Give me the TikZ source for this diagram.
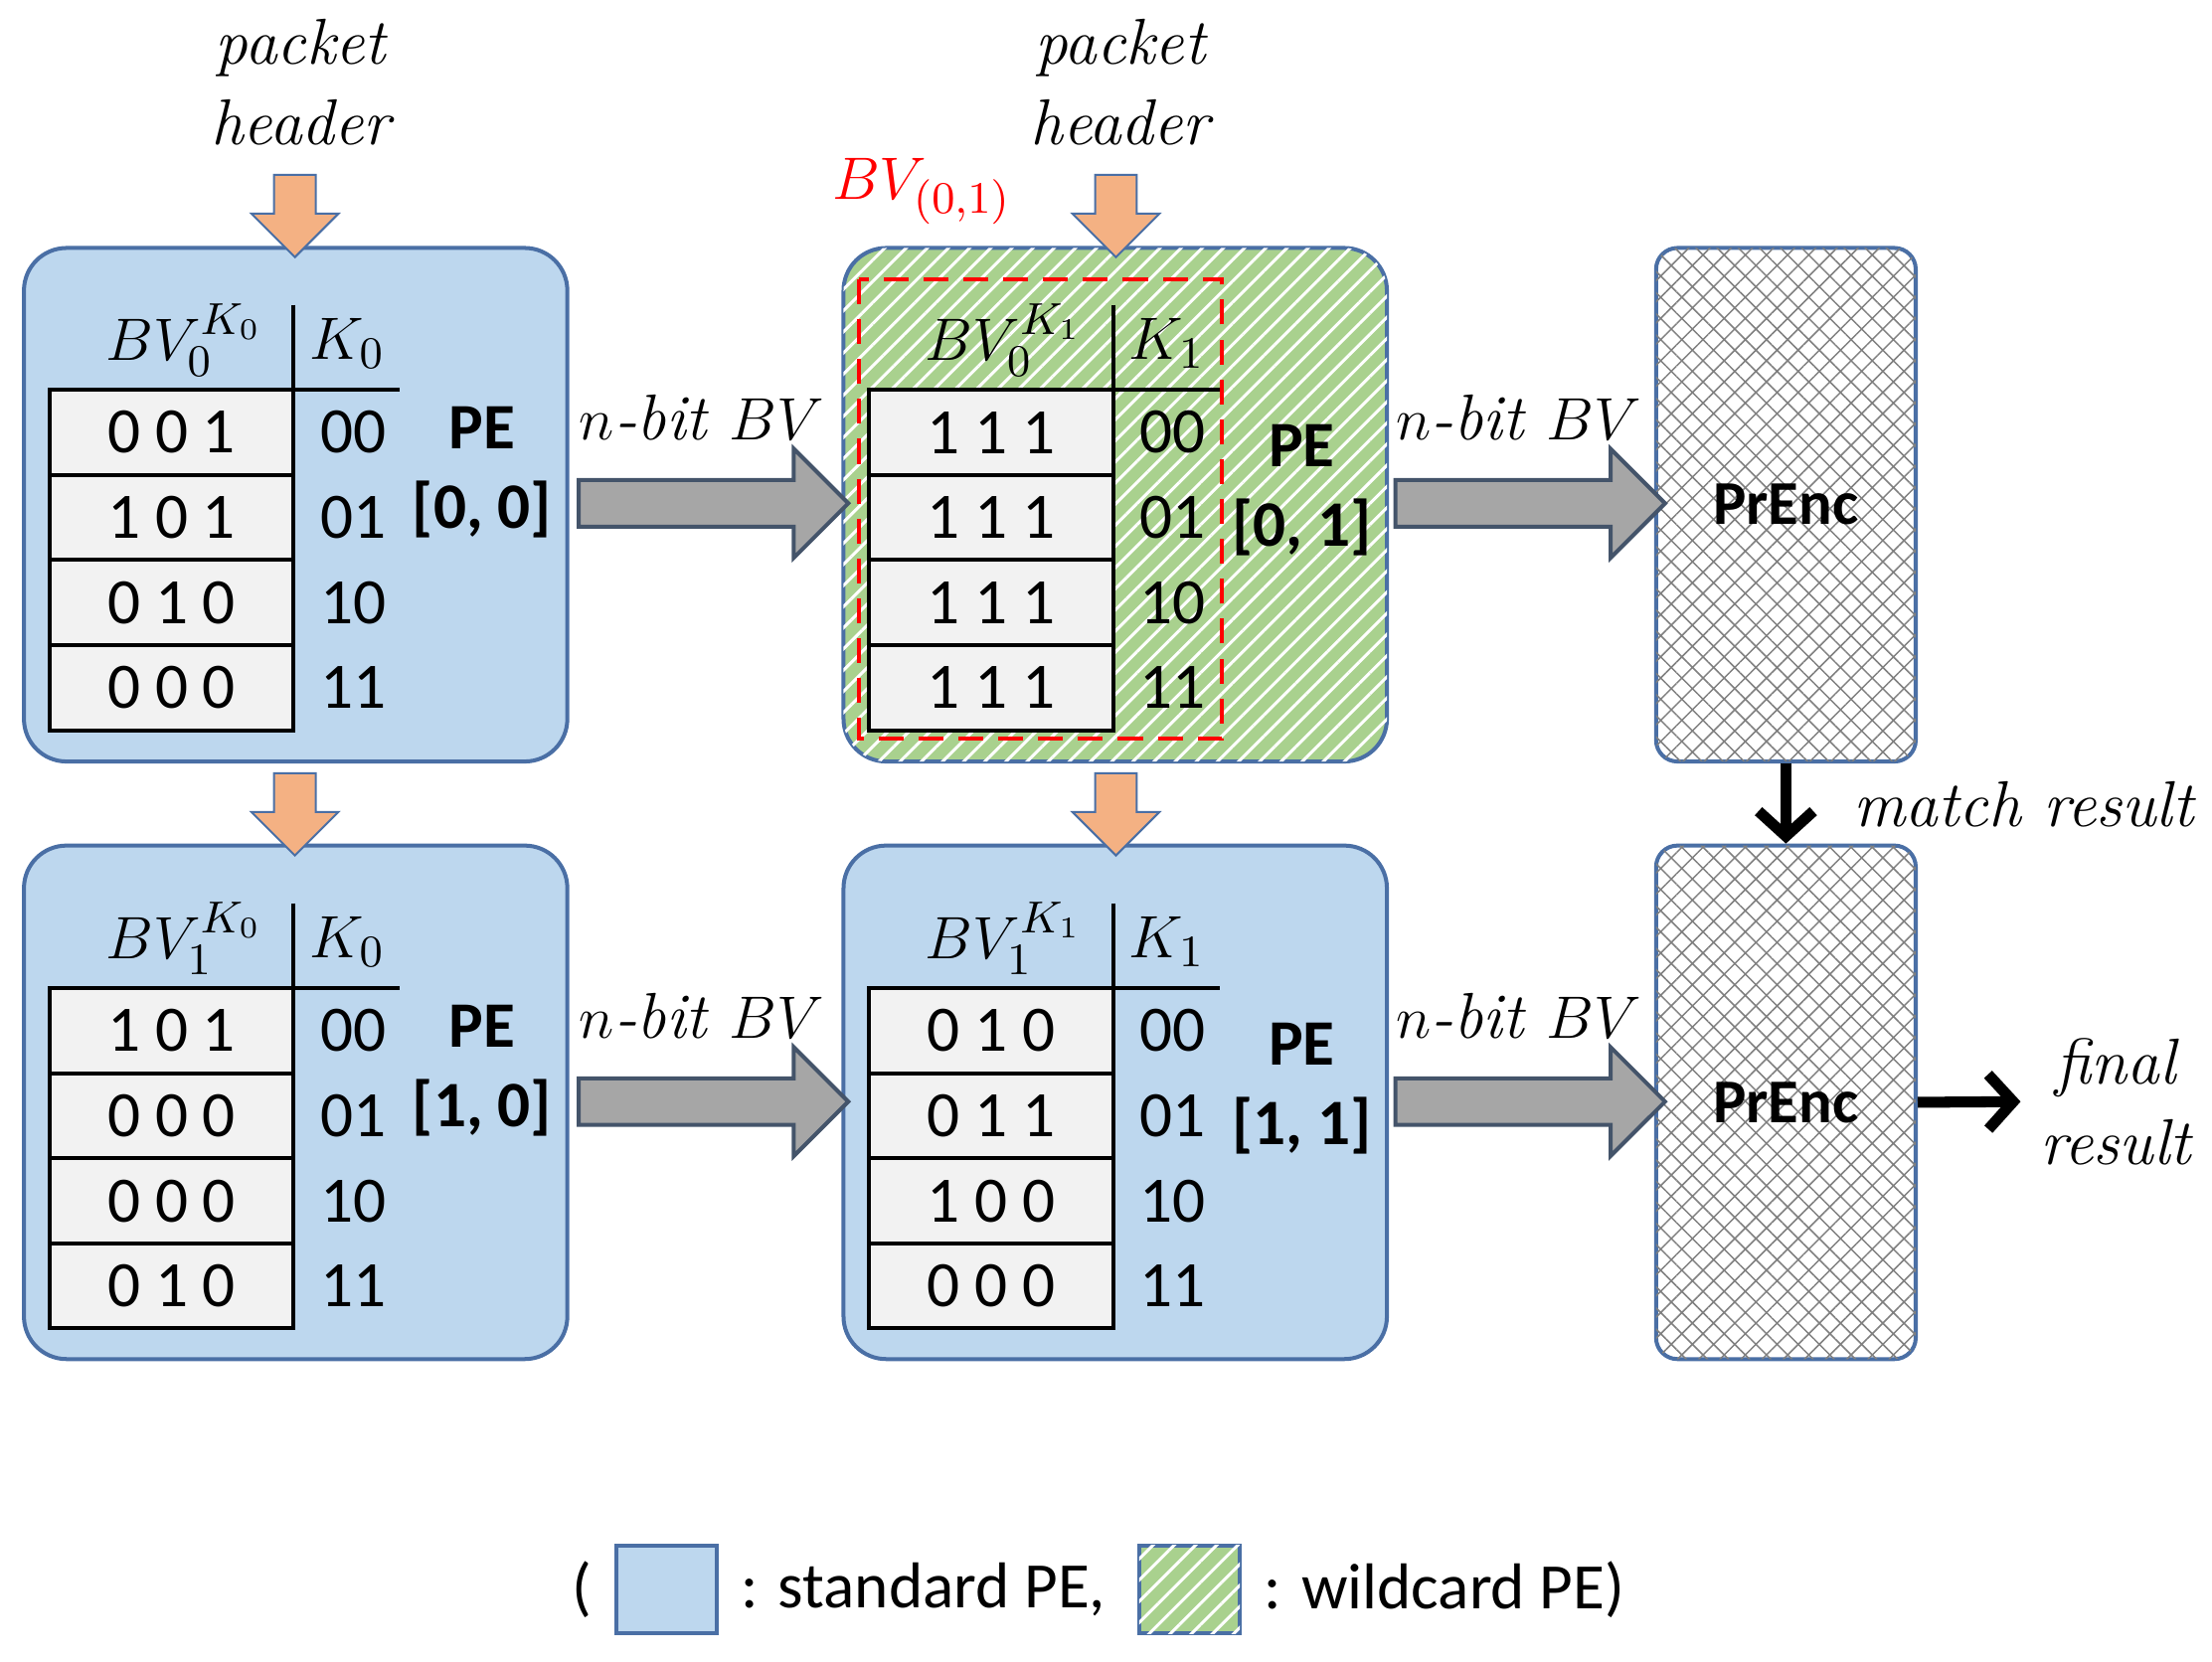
\documentclass[tikz,border=0pt]{standalone}
\usepackage{fontspec}
\setsansfont{Carlito}
\usetikzlibrary{positioning,arrows.meta,shapes.arrows,patterns.meta}
\definecolor{peblue}{HTML}{BDD7EE}
\definecolor{peedge}{HTML}{4A6FA5}
\definecolor{pegreen}{HTML}{A9D18E}
\definecolor{porange}{HTML}{F4B183}
\definecolor{bvgray}{HTML}{A6A6A6}
\definecolor{bvedge}{HTML}{44546A}
\definecolor{cellgray}{HTML}{F2F2F2}
\tikzset{
	>=Stealth
}

\begin{document}
\begin{tikzpicture}[
x = 0.01cm, y = -0.01cm,
every node/.style = {
	font = \fontsize{11.5}{13}\sffamily
},
pe/.style = {
	draw = peedge, thick, rounded corners = 0.3cm,
	minimum width = 3.83cm, minimum height = 3.62cm, inner sep = 0
},
standard/.style = {
	pe, fill = peblue
},
wildcard/.style = {
	pe, fill = pegreen,
	postaction = {pattern = {Lines[angle=45, distance=3pt, line width=0.6pt]}, pattern color = white}
},
prenc/.style = {
	draw = peedge, thick, rounded corners = 0.15cm, fill = white,
	minimum width = 1.83cm, minimum height = 3.62cm, inner sep = 0,
	postaction = {pattern = {Hatch[angle=45, distance=3pt, line width=0.3pt]}, pattern color = gray},
	font = \fontsize{12.5}{14}\sffamily\bfseries
},
cell/.style = {
	draw, thick, fill = cellgray, minimum width = 1.72cm, minimum height = 0.6cm,
	inner sep = 0, font = \fontsize{13}{15}\sffamily
},
key/.style = {
	font = \fontsize{13}{15}\sffamily
},
label/.style = {
	font = \fontsize{13}{16}\sffamily\bfseries, align = center
},
hdr/.style = {
	font = \fontsize{12.5}{14}\selectfont
},
ital/.style = {
	font = \fontsize{13}{16.2}\itshape, align = center
},
bvarrow/.style = {
	single arrow, draw = bvedge, thick, fill = bvgray, inner xsep = 0, inner ysep = 0.15cm,
	single arrow head extend = 0.22cm, minimum height = 1.9cm
},
inarrow/.style = {
	single arrow, draw = peedge, fill = porange, inner xsep = 0, inner ysep = 0.14cm,
	single arrow head extend = 0.16cm, minimum height = 0.58cm, rotate = -90
},
result/.style = {
	line width = 2.2pt, -{Straight Barb[length=5pt, width=11pt, line width=2.2pt]}
}
]
\useasboundingbox (0,0) rectangle (1560,1172);

% processing elements
\node[standard] (pe00) at (208.5,356) {};
\node[wildcard] (pe01) at (786.5,356) {};
\node[standard] (pe10) at (208.5,777.5) {};
\node[standard] (pe11) at (786.5,777.5) {};
\node[prenc] (enc0) at (1259.5,356) {PrEnc};
\node[prenc] (enc1) at (1259.5,777.5) {PrEnc};

% tables
\foreach \bx/\by/\i/\k/\vals in {
	17/175/0/0/{0 0 1,1 0 1,0 1 0,0 0 0},
	595/175/0/1/{1 1 1,1 1 1,1 1 1,1 1 1},
	17/597/1/0/{1 0 1,0 0 0,0 0 0,0 1 0},
	595/597/1/1/{0 1 0,0 1 1,1 0 0,0 0 0}} {
	\foreach \v [count=\r from 0] in \vals {
		\node[cell] (c\bx\by\r) at (\bx+104,\by+130+60*\r) {\v};
	}
	\foreach \kk [count=\r from 0] in {00,01,10,11} {
		\node[key] at (\bx+232,\by+130+60*\r) {\kk};
	}
	\node[hdr] at (\bx+113,\by+65) {$BV_{\i}^{K_{\k}}$};
	\node[hdr] at (\bx+228,\by+67) {$K_{\k}$};
	\draw[thick] (\bx+190,\by+40) -- (\bx+190,\by+100) -- (\bx+265,\by+100);
}

% labels
\node[label] (l00) at (340,333) {PE\\{}[0, 0]};
\node[label] (l01) at (918,346) {PE\\{}[0, 1]};
\node[label] (l10) at (340,755) {PE\\{}[1, 0]};
\node[label] (l11) at (918,768) {PE\\{}[1, 1]};

% wildcard region
\draw[red, thick, dash pattern=on 5pt off 3pt] (606,197) rectangle (862,521);
\node[red, hdr] (bvw) at (650,135) {$BV_{(0,1)}$};

% inputs
\node[ital] (ph0) at (212,58) {packet\\header};
\node[ital] (ph1) at (790,58) {packet\\header};
\node[inarrow] (in0) at (208,145) {};
\node[inarrow] (in1) at (787,145) {};
\node[inarrow] (d0) at (208,567) {};
\node[inarrow] (d1) at (787,567) {};

% bit vectors
\node[bvarrow] (a00) at (495,355) {};
\node[bvarrow] (a01) at (1071,355) {};
\node[bvarrow] (a10) at (495,777) {};
\node[bvarrow] (a11) at (1071,777) {};
\foreach \n in {a00,a01,a10,a11}
	\node[ital, above=4pt of \n.north] {$n$-bit $BV$};

% results
\draw[result] (enc0.south) -- (enc1.north);
\node[ital, anchor=west] (mr) at (1295,567) {match result};
\coordinate (fin) at (1425,777);
\draw[result] (enc1.east) -- (fin);
\node[ital] (fr) at (1492,777) {final\\result};

% legend
\node[key, anchor=east] (lp) at (430,1121) {(};
\node[draw=peedge, thick, fill=peblue, minimum width=0.71cm, minimum height=0.62cm, anchor=west] (lb) at (433,1121) {};
\node[key, right=1pt of lb] (ls) {: standard PE,};
\node[draw=peedge, thick, fill=pegreen, minimum width=0.71cm, minimum height=0.62cm, anchor=west,
	postaction = {pattern = {Lines[angle=45, distance=3pt, line width=0.6pt]}, pattern color = white}] (lg) at (802,1121) {};
\node[key, right=1pt of lg] (lw) {: wildcard PE)};
\end{tikzpicture}
\end{document}
